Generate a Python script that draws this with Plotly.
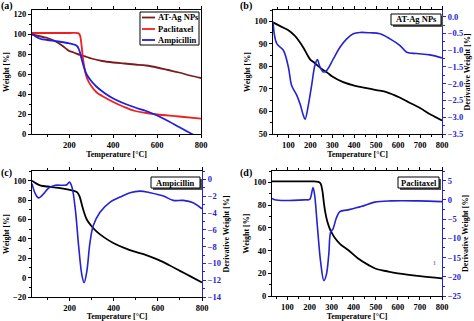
import plotly.graph_objects as go

W, H = 474, 321

# ---------------- data ----------------
series_names = ["AT-Ag NPs", "Paclitaxel", "Ampicillin"]

ag_T = [30, 50, 80, 100, 130, 150, 170, 190, 200, 220, 250, 280, 300, 350, 400, 450, 500, 550, 600, 650, 700, 750, 800]
ag_W = [99.5, 98.5, 97, 96, 93.5, 91, 88, 84.5, 83, 81.5, 79, 77, 75.5, 73, 71.5, 70.5, 69.5, 68.5, 66.5, 64, 61.5, 58.5, 56]

pac_T = [30, 100, 200, 240, 248, 255, 262, 270, 280, 300, 325, 350, 400, 450, 500, 550, 600, 700, 800]
pac_W = [101, 101, 101, 100.8, 99, 90, 76, 65, 56, 48, 41.5, 38, 32, 27, 23, 21, 19.5, 17.5, 15.3]

amp_T = [30, 50, 70, 100, 150, 190, 220, 235, 245, 255, 265, 278, 300, 323, 360, 400, 450, 500, 550, 600, 650, 700, 750, 800]
amp_W = [100, 97, 95, 94, 92.5, 91, 89.5, 88, 84, 76, 68, 60, 53, 47.5, 41, 35.5, 30.5, 26.5, 23, 18.5, 13, 7, 1, -5]

# (b) derivative of AT-Ag NPs
agd_T = [30, 47, 77, 100, 115, 138, 153, 168, 176, 191, 206, 221, 232, 244, 259, 275, 305, 335, 366, 396, 426, 472, 517, 563, 609, 639, 685, 745, 800]
agd_D = [-0.15, -0.8, -1.0, -1.5, -2.05, -2.34, -2.6, -2.94, -3.06, -2.64, -2.05, -1.45, -1.28, -1.5, -1.65, -1.6, -1.26, -0.91, -0.66, -0.51, -0.47, -0.48, -0.51, -0.66, -0.86, -1.06, -1.1, -1.14, -1.23]

# (c) derivative of Ampicillin
ampd_T = [30, 45, 60, 83, 105, 135, 173, 188, 200, 211, 226, 241, 256, 266, 278, 293, 308, 338, 384, 429, 474, 519, 565, 625, 670, 715, 760, 800]
ampd_D = [-0.5, -1.7, -2.2, -1.7, -1.03, -0.7, -0.7, -0.63, -0.32, -0.92, -3.5, -7.85, -11.4, -12.3, -11.0, -7.45, -5.47, -3.9, -2.7, -2.1, -1.58, -1.39, -1.58, -1.98, -2.5, -2.5, -2.77, -3.5]

# (d) Paclitaxel weight and derivative
pacd_T = [30, 100, 200, 240, 250, 258, 265, 272, 280, 290, 300, 315, 340, 375, 420, 466, 500, 557, 600, 700, 800]
pacd_W = [100.8, 100.8, 100.8, 100.5, 99, 93, 82, 73, 66, 60, 56, 51, 45.5, 40.5, 33, 27.4, 24, 21.5, 20, 17.5, 15.5]
pacdd_T = [30, 42, 178, 201, 208, 216, 223, 235, 250, 265, 276, 287, 296, 306, 321, 337, 374, 434, 495, 570, 691, 800]
pacdd_D = [0.4, 0.0, 0.0, 0.15, 1.3, 3.2, 1.3, -6.5, -16, -21, -19.5, -14.3, -8.3, -7.6, -4.8, -3.07, -2.6, -1.74, -0.6, -0.28, -0.28, -0.45]

panel_tags = ["(a)", "(b)", "(c)", "(d)"]
box_labels = ["AT-Ag NPs", "Ampicillin", "Paclitaxel"]

# ---------------- style ----------------
FONT = "Liberation Serif"
C_AG = "#7a1c1c"
C_PAC = "#f01e1e"
C_AMP = "#1f1fdc"
C_DER = "#2323d2"
BLK = "black"

def px(x):
    return x / W

def py(y):
    return 1 - y / H

fig = go.Figure()

# (a)
fig.add_trace(go.Scatter(x=ag_T, y=ag_W, mode="lines", line=dict(color=C_AG, width=1.8, shape="spline"), xaxis="x", yaxis="y", showlegend=False))
fig.add_trace(go.Scatter(x=pac_T, y=pac_W, mode="lines", line=dict(color=C_PAC, width=1.8, shape="spline"), xaxis="x", yaxis="y", showlegend=False))
fig.add_trace(go.Scatter(x=amp_T, y=amp_W, mode="lines", line=dict(color=C_AMP, width=1.8, shape="spline"), xaxis="x", yaxis="y", showlegend=False))
# (b)
fig.add_trace(go.Scatter(x=ag_T, y=ag_W, mode="lines", line=dict(color=BLK, width=1.8, shape="spline"), xaxis="x2", yaxis="y2", showlegend=False))
fig.add_trace(go.Scatter(x=agd_T, y=agd_D, mode="lines", line=dict(color=C_DER, width=1.6, shape="spline"), xaxis="x2", yaxis="y3", showlegend=False))
# (c)
fig.add_trace(go.Scatter(x=amp_T, y=amp_W, mode="lines", line=dict(color=BLK, width=1.8, shape="spline"), xaxis="x3", yaxis="y4", showlegend=False))
fig.add_trace(go.Scatter(x=ampd_T, y=ampd_D, mode="lines", line=dict(color=C_DER, width=1.6, shape="spline"), xaxis="x3", yaxis="y5", showlegend=False))
# (d)
fig.add_trace(go.Scatter(x=pacd_T, y=pacd_W, mode="lines", line=dict(color=BLK, width=1.8, shape="spline"), xaxis="x4", yaxis="y6", showlegend=False))
fig.add_trace(go.Scatter(x=pacdd_T, y=pacdd_D, mode="lines", line=dict(color=C_DER, width=1.6, shape="spline"), xaxis="x4", yaxis="y7", showlegend=False))

tickfont = dict(family=FONT, size=8.5, color=BLK, weight="bold")
titlefont = dict(family=FONT, size=8, color=BLK, weight="bold")

def xax(dom, anchor, dtick):
    return dict(domain=dom, anchor=anchor, range=[30, 800], dtick=dtick, tick0=0,
                showline=True, linecolor=BLK, linewidth=1, mirror="ticks",
                ticks="outside", ticklen=3, tickcolor=BLK, showgrid=False, zeroline=False,
                minor=dict(ticks="outside", ticklen=2, dtick=dtick / 2, tickcolor=BLK),
                tickfont=tickfont, automargin=False,
                title=dict(text="Temperature [°C]", font=titlefont, standoff=1))

def yax(dom, anchor, rng, dtick, color=BLK, side="left", overlaying=None, title="Weight [%]", fmt=None, mirror=True):
    d = dict(domain=dom, anchor=anchor, range=rng, dtick=dtick, side=side,
             showline=True, linecolor=color, linewidth=1, mirror=mirror,
             ticks="outside", ticklen=3, tickcolor=color, showgrid=False, zeroline=False,
             minor=dict(ticks="outside", ticklen=2, dtick=dtick / 2, tickcolor=color),
             tickfont=dict(family=FONT, size=8.5, color=color, weight="bold"), automargin=False,
             title=dict(text=title, font=titlefont, standoff=2))
    if overlaying:
        d["overlaying"] = overlaying
        d.pop("domain")
    if fmt:
        d["tickformat"] = fmt
    return d

top_dom = [py(134), py(10)]
bot_dom_c = [py(297), py(171)]
bot_dom_d = [py(296), py(171)]

fig.update_layout(
    width=W, height=H, margin=dict(l=0, r=0, t=0, b=0),
    paper_bgcolor="white", plot_bgcolor="white",
    font=dict(family=FONT, size=9, color=BLK, weight="bold"),
    xaxis=xax([px(32), px(201)], "y", 200),
    yaxis=yax(top_dom, "x", [0, 124], 20),
    xaxis2=xax([px(273), px(442)], "y2", 100),
    yaxis2=yax(top_dom, "x2", [50, 105], 10),
    yaxis3=yax(None, "x2", [-3.5, 0.2], 0.5, color=C_DER, side="right", overlaying="y2", title="Derivative Weight [%]", fmt=".1f", mirror=False),
    xaxis3=xax([px(32), px(202)], "y4", 200),
    yaxis4=yax(bot_dom_c, "x3", [-20, 110], 20),
    yaxis5=yax(None, "x3", [-14, 1], 2, color=C_DER, side="right", overlaying="y4", title="Derivative Weight [%]", mirror=False),
    xaxis4=xax([px(272), px(442)], "y6", 100),
    yaxis6=yax(bot_dom_d, "x4", [0, 110], 20),
    yaxis7=yax(None, "x4", [-25, 7.5], 5, color=C_DER, side="right", overlaying="y6", title="Derivative Weight [%]", mirror=False),
)

# right-axis titles in black
for k in ["yaxis3", "yaxis5", "yaxis7"]:
    fig.layout[k].title.font.color = BLK

shapes = []
annots = []

# legend of (a)
shapes.append(dict(type="rect", xref="paper", yref="paper", x0=px(140), x1=px(199), y0=py(45), y1=py(12),
                   line=dict(color=BLK, width=1), fillcolor="white", layer="above"))
for name, col, yy in zip(series_names, [C_AG, C_PAC, C_AMP], [17.5, 29, 40]):
    shapes.append(dict(type="line", xref="paper", yref="paper", x0=px(142), x1=px(155), y0=py(yy), y1=py(yy),
                       line=dict(color=col, width=1.8), layer="above"))
    annots.append(dict(text=name, xref="paper", yref="paper", x=px(156), y=py(yy), xanchor="left", yanchor="middle",
                       showarrow=False, font=dict(family=FONT, size=8.5, color=BLK, weight="bold")))

# boxed labels in (b), (c), (d) with a drop shadow
for lab, (x0, x1, y0, y1) in zip(box_labels, [(391, 441, 14, 25), (151, 200, 177, 188), (398, 439, 177, 188)]):
    shapes.append(dict(type="rect", xref="paper", yref="paper", x0=px(x0 + 2), x1=px(x1 + 2), y0=py(y1 + 2), y1=py(y0 + 2),
                       line=dict(color="#555555", width=0), fillcolor="#555555", layer="above"))
    shapes.append(dict(type="rect", xref="paper", yref="paper", x0=px(x0), x1=px(x1), y0=py(y1), y1=py(y0),
                       line=dict(color=BLK, width=1), fillcolor="white", layer="above"))
    annots.append(dict(text=lab, xref="paper", yref="paper", x=px((x0 + x1) / 2), y=py((y0 + y1) / 2),
                       xanchor="center", yanchor="middle", showarrow=False,
                       font=dict(family=FONT, size=8.5, color=BLK, weight="bold")))

# panel tags
for tag, x, y in zip(panel_tags, [7, 246, 6, 246], [6, 6, 173, 173]):
    annots.append(dict(text=tag, xref="paper", yref="paper", x=px(x), y=py(y), xanchor="center", yanchor="middle",
                       showarrow=False, font=dict(family=FONT, size=10, color=BLK, weight="bold")))

annots.append(dict(text="1", xref="paper", yref="paper", x=px(438), y=py(268), showarrow=False,
                   font=dict(family=FONT, size=6, color="#888888")))

fig.update_layout(shapes=shapes, annotations=annots)
fig.write_html("out.html")
